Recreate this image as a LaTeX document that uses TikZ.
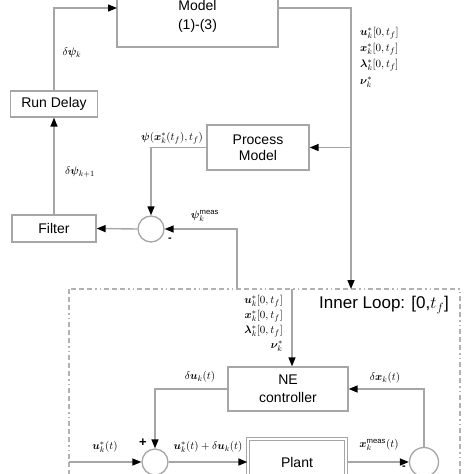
\documentclass[tikz,border=0pt]{standalone}
\usepackage{amsmath,bm}
\usepackage{fontspec}
\setmainfont{Liberation Sans}
\usetikzlibrary{arrows.meta}
\begin{document}
\begin{tikzpicture}[x=1pt,y=-1pt,
 line/.style={draw=black!35, line width=1.4pt},
 arr/.style={line, -{Triangle[length=9pt,width=7pt,color=black]}},
 box/.style={draw=black!35, line width=1.3pt, fill=white, inner sep=0pt, align=center, font=\fontsize{14}{17}\selectfont},
 sumc/.style={circle, draw=black!35, line width=1.3pt, minimum size=26pt, inner sep=0pt, fill=white},
 lab/.style={font=\fontsize{11}{12}\selectfont, inner sep=0pt},
 dd/.style={draw=black!30, line width=1.3pt, dash pattern=on 5pt off 3pt on 5pt off 3pt on 5pt off 3pt on 1.5pt off 3pt on 1.5pt off 3pt},
]
\useasboundingbox (0,0) rectangle (474,474);
\clip (0,0) rectangle (474,474);

% inner loop frame
\draw[dd] (69,289) rectangle (460,520);

% boxes
\node[box, minimum width=161pt, minimum height=62pt, font=\fontsize{14}{19}\selectfont] (model) at (197.5,16) {Model\\(1)-(3)};
\node[box, minimum width=87pt, minimum height=26pt] (delay) at (54,104) {Run Delay};
\node[box, minimum width=84pt, minimum height=27pt] (filter) at (54,228.5) {Filter};
\node[box, minimum width=102pt, minimum height=45pt, font=\fontsize{14}{16}\selectfont] (pm) at (258,147.5) {Process\\Model};
\node[sumc] (s1) at (151,229) {};
\node[box, minimum width=120pt, minimum height=44pt, font=\fontsize{14}{18}\selectfont] (ne) at (288,389) {NE\\controller};
\node[sumc] (s2) at (155,462) {};
\node[box, double=white, double distance=1.6pt, minimum width=98pt, minimum height=46pt] (plant) at (297,462) {Plant};
\node[sumc, minimum size=29pt] (s3) at (424,462) {};

% coordinates
\coordinate (mIn) at (117,8);
\coordinate (mOut) at (278,8);
\coordinate (inTop) at (351,289);
\coordinate (br1) at (351,147.5);
\coordinate (measTop) at (237,289);
\coordinate (neIn) at (292,289);
\coordinate (uIn) at (69,462);

% connectors
\draw[arr] (delay.north) |- (mIn);
\draw[arr] (mOut) -| (inTop);
\draw[arr] (br1) -- (pm.east);
\draw[arr] (pm.west) -| (s1.north);
\draw[arr] (s1.west) -- (filter.east);
\draw[arr] (filter.north) -- (delay.south);
\draw[arr] (measTop) |- (s1.east);
\draw[arr] (neIn) -- (neIn |- ne.north);
\draw[arr] (ne.west) -| (s2.north);
\draw[arr] (uIn) -- (s2.west);
\draw[arr] (s2.east) -- (plant.west);
\draw[arr] (plant.east) -- (s3.west);
\draw[arr] (s3.north) |- (ne.east);

% labels outer
\node[lab, anchor=west] (l1) at (360,33) {$\bm{u}_k^*[0,t_f]$};
\node[lab, anchor=west] (l2) at (360,49) {$\bm{x}_k^*[0,t_f]$};
\node[lab, anchor=west] (l3) at (360,65) {$\bm{\lambda}_k^*[0,t_f]$};
\node[lab, anchor=west] (l4) at (360,82) {$\bm{\nu}_k^*$};
\node[lab] (lpsi) at (172,138) {$\bm{\psi}(\bm{x}_k^*(t_f),t_f)$};
\node[lab] (ldk) at (72,53) {$\delta\bm{\psi}_k$};
\node[lab] (ldk1) at (80,172) {$\delta\bm{\psi}_{k+1}$};
\node[lab] (lmeas) at (205,216) {$\bm{\psi}_k^{\mathrm{meas}}$};
\node[lab, font=\bfseries\fontsize{11}{12}\selectfont] (m1) at (170,240) {-};

% inner
\node[font=\fontsize{17}{20}\selectfont, inner sep=0pt] (title) at (384,305) {Inner Loop: [0,$t_f$]};
\node[lab, anchor=east] (i1) at (283,301) {$\bm{u}_k^*[0,t_f]$};
\node[lab, anchor=east] (i2) at (283,316) {$\bm{x}_k^*[0,t_f]$};
\node[lab, anchor=east] (i3) at (283,331) {$\bm{\lambda}_k^*[0,t_f]$};
\node[lab, anchor=east] (i4) at (283,346) {$\bm{\nu}_k^*$};
\node[lab] (ldu) at (200,377) {$\delta\bm{u}_k(t)$};
\node[lab, font=\bfseries\fontsize{13}{14}\selectfont] (p1) at (143,443) {+};
\node[lab] (lu) at (105,447) {$\bm{u}_k^*(t)$};
\node[lab] (lusum) at (208,447) {$\bm{u}_k^*(t)+\delta\bm{u}_k(t)$};
\node[lab] (lxm) at (379,445) {$\bm{x}_k^{\mathrm{meas}}(t)$};
\node[lab] (ldx) at (385,378) {$\delta\bm{x}_k(t)$};
\node[lab, font=\bfseries\fontsize{11}{12}\selectfont] (m2) at (404,468) {-};
\end{tikzpicture}
\end{document}
